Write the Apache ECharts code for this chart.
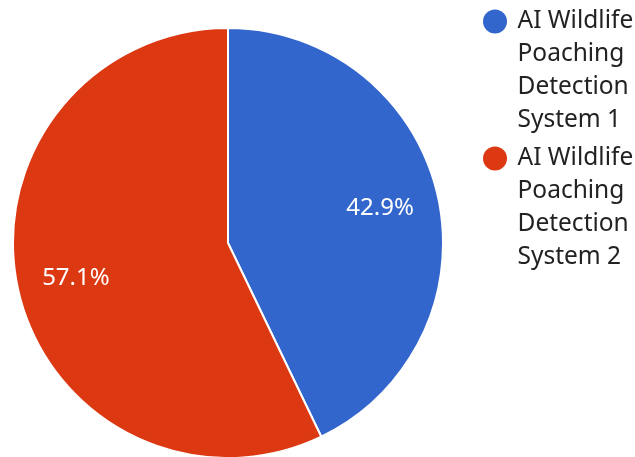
<!DOCTYPE html>
<html><head><meta charset="utf-8">
<script src="https://cdn.jsdelivr.net/npm/echarts@6/dist/echarts.min.js"></script>
<style>html,body{margin:0;padding:0;background:#fff}#c{width:635px;height:457px}</style>
</head><body><div id="c"></div>
<script>
var categories = ['AI Wildlife Poaching Detection System 1', 'AI Wildlife Poaching Detection System 2'];
var values = [3, 4];
var colors = ['#3366cc', '#dc3912'];

function wrap(name) {
  var words = name.split(' '), lines = [], cur = '';
  words.forEach(function (w) {
    if (cur && (cur + ' ' + w).length > 11) { lines.push(cur); cur = w; }
    else { cur = cur ? cur + ' ' + w : w; }
  });
  if (cur) lines.push(cur);
  // leading blank lines keep the first text line level with the icon
  return '\n\n\n' + lines.join('\n');
}
var data = categories.map(function (n, i) { return { name: n, value: values[i] }; });
var LH = 33;
var chart = echarts.init(document.getElementById('c'));
chart.setOption({
  animation: false,
  color: colors,
  legend: {
    orient: 'vertical', left: 478, top: -99, icon: 'circle',
    itemWidth: 35, itemHeight: 24, itemGap: -94,
    data: categories,
    formatter: wrap,
    itemStyle: { borderWidth: 0 },
    textStyle: { fontFamily: 'Noto Sans', fontSize: 24.5, color: '#222', lineHeight: LH,
      backgroundColor: 'rgba(0,0,0,0)' }
  },
  series: [{
    type: 'pie', center: [228, 243], radius: 215, startAngle: 90, clockwise: true,
    data: data, label: { show: false }, labelLine: { show: false },
    itemStyle: { borderColor: '#fff', borderWidth: 2 }, emphasis: { disabled: true }
  }, {
    type: 'pie', center: [228, 243], radius: [101, 205], startAngle: 90, clockwise: true,
    data: data, silent: true, itemStyle: { color: 'rgba(0,0,0,0)' },
    label: { show: true, position: 'inside', formatter: function (p) { return p.percent.toFixed(1) + '%'; },
      color: '#fff', fontFamily: 'Noto Sans', fontSize: 24 },
    labelLine: { show: false }, emphasis: { disabled: true }
  }]
});
</script></body></html>
